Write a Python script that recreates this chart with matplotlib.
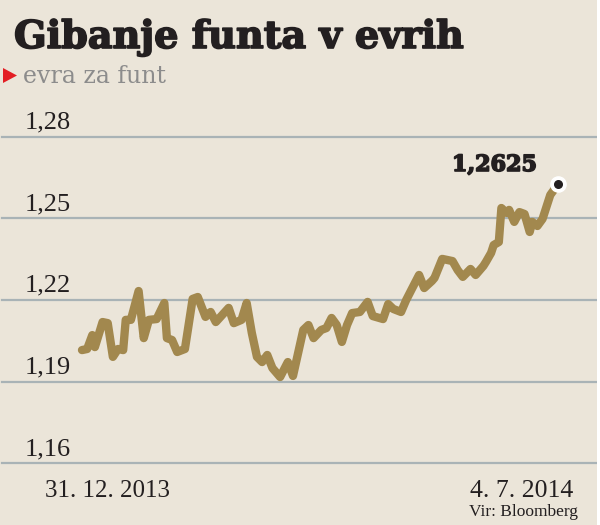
import matplotlib
matplotlib.use("Agg")
import matplotlib.pyplot as plt
import matplotlib.patheffects as pe
from matplotlib.patches import Polygon, Rectangle
from matplotlib.transforms import offset_copy

# days since 31.12.2013 and EUR per GBP
days = [0, 2, 4, 5, 8, 10, 12, 14, 16, 17, 19, 22, 24, 26, 29, 32, 33, 35, 37, 40,
        43, 45, 48, 50, 52, 57, 59, 62, 64, 66, 68, 70, 72, 74, 77, 80, 82, 86, 88, 90,
        93, 95, 97, 99, 101, 103, 105, 108, 111, 113, 117, 119, 121, 124, 126, 128, 131, 133, 136, 137,
        140, 144, 146, 148, 151, 153, 156, 157, 159, 160, 162, 163, 165, 166, 168, 170, 172, 174, 175, 177,
        179, 182, 185]
rate = [1.2016, 1.2020, 1.2071, 1.2027, 1.2119, 1.2115, 1.1991, 1.2020, 1.2016, 1.2127,
        1.2127, 1.2233, 1.2060, 1.2127, 1.2130, 1.2189, 1.2060, 1.2053, 1.2009, 1.2020,
        1.2204, 1.2211, 1.2138, 1.2156, 1.2119, 1.2171, 1.2115, 1.2127, 1.2189, 1.2079,
        1.1991, 1.1972, 1.1998, 1.1950, 1.1917, 1.1972, 1.1921, 1.2090, 1.2108, 1.2060,
        1.2090, 1.2097, 1.2134, 1.2108, 1.2046, 1.2108, 1.2152, 1.2156, 1.2193, 1.2141,
        1.2130, 1.2185, 1.2167, 1.2156, 1.2200, 1.2237, 1.2292, 1.2244, 1.2270, 1.2281,
        1.2351, 1.2343, 1.2310, 1.2285, 1.2314, 1.2292, 1.2325, 1.2340, 1.2373, 1.2402,
        1.2413, 1.2538, 1.2520, 1.2531, 1.2487, 1.2523, 1.2516, 1.2450, 1.2487, 1.2472,
        1.2498, 1.2586, 1.2625]
yticks = [1.16, 1.19, 1.22, 1.25, 1.28]
ytick_labels = ["1,16", "1,19", "1,22", "1,25", "1,28"]
last_label = "1,2625"
start_label = "31. 12. 2013"
end_label = "4. 7. 2014"

W, H = 600, 525
bg = "#ebe5d9"
gold = "#a2884e"
grid = "#a9b3b6"
ink = "#231f20"
serif = ["Liberation Serif", "DejaVu Serif"]
slab = ["DejaVu Serif"]
heavy = [pe.withStroke(linewidth=1.2, foreground=ink)]  # fake a black weight


def fx(px):
    return px / W


def fy(py):
    return 1 - py / H


fig = plt.figure(figsize=(6, 5.25), dpi=100)
fig.patch.set_facecolor(bg)
fig.patches.append(Rectangle((fx(597), 0), fx(3), 1, transform=fig.transFigure,
                             facecolor="white", edgecolor="none"))

# axes placed so that day 0 lands at x=82px and day 185 at x=558px
px_per_day = (558 - 82) / 185
ax = fig.add_axes([fx(2), fy(463.3), fx(595), fy(136.7) - fy(463.3)])
ax.set_facecolor("none")
ax.set_xlim(-80 / px_per_day, (597 - 82) / px_per_day)
ax.set_ylim(1.16, 1.28)
for s in ax.spines.values():
    s.set_visible(False)
ax.set_xticks([])
ax.set_yticks([])

for v in yticks:
    ax.axhline(v, color=grid, lw=1.6, zorder=1, clip_on=False)

lab_tr = offset_copy(ax.transData, fig=fig, x=0, y=6, units="points")
for v, lab in zip(yticks, ytick_labels):
    ax.text((71 - 82) / px_per_day, v, lab, transform=lab_tr, ha="right", va="baseline",
            fontsize=19, family=serif, color=ink)

ax.plot(days, rate, color=gold, lw=6, solid_joinstyle="round", solid_capstyle="round", zorder=3)
ax.scatter([days[-1]], [rate[-1]], s=120, color="white", zorder=4)
ax.scatter([days[-1]], [rate[-1]], s=30, color=ink, zorder=5)
ax.annotate(last_label, (days[-1], rate[-1]), xytext=(-15, 6), textcoords="offset points",
            ha="right", va="bottom", fontsize=16, fontweight="heavy", family=slab, color=ink,
            path_effects=heavy)

fig.text(fx(14), fy(48), "Gibanje funta v evrih", fontsize=27.5, fontweight="heavy",
         family=slab, color=ink, va="baseline", path_effects=heavy)
fig.patches.append(Polygon([(fx(3), fy(68)), (fx(3), fy(83)), (fx(17), fy(75.5))],
                           closed=True, transform=fig.transFigure, facecolor="#e31e24", edgecolor="none"))
fig.text(fx(23), fy(83), "evra za funt", fontsize=17, family=slab, color="#8c8c8c", va="baseline")

fig.text(fx(45), fy(497), start_label, fontsize=18, family=serif, color=ink, va="baseline")
fig.text(fx(573), fy(497), end_label, fontsize=18.5, family=serif, color=ink, va="baseline", ha="right")
fig.text(fx(578), fy(516), "Vir: Bloomberg", fontsize=12.5, family=serif, color=ink,
         va="baseline", ha="right")

fig.savefig("out.png", dpi=100, facecolor=fig.get_facecolor())
